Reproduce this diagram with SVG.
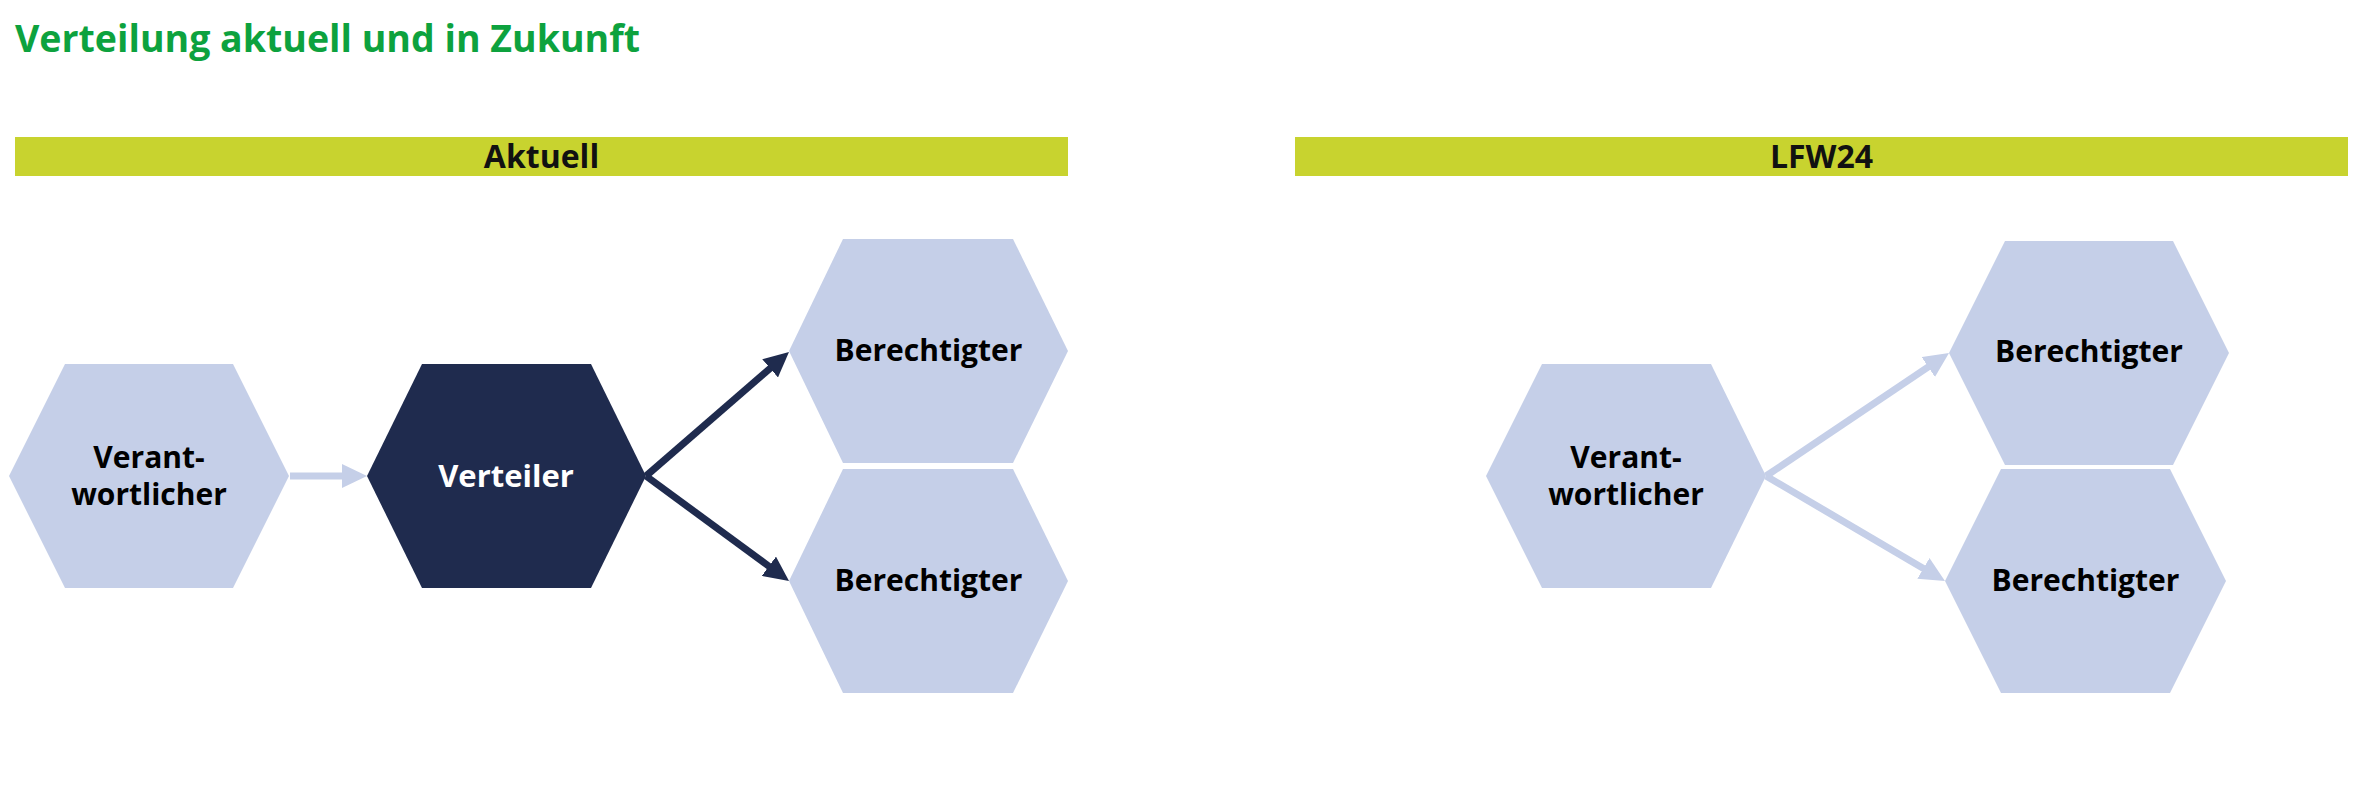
<svg xmlns="http://www.w3.org/2000/svg" width="2362" height="789" viewBox="0 0 2362 789">
<style>
text{font-family:"Open Sans","Noto Sans","Liberation Sans",sans-serif;font-weight:700;text-anchor:middle}
.title{fill:#0DA23E;font-size:37.5px;text-anchor:start}
.bar{fill:#C8D32F}
.barlabel{fill:#111111;font-size:32px}
.hex{fill:#C5CFE8}
.hexdark{fill:#1F2B4E}
.lbl{fill:#000000;font-size:30px}
.lblw{fill:#FFFFFF;font-size:31px}
.darkline{stroke:#1F2B4E;stroke-width:7;fill:none;marker-end:url(#headDark)}
.lightline{stroke:#C5CFE8;stroke-width:7;fill:none;marker-end:url(#headLight)}
</style>
<defs>
<marker id="headDark" markerUnits="userSpaceOnUse" markerWidth="25" markerHeight="24" refX="5" refY="12" orient="auto">
<path d="M0,0 L25,12 L0,24 Z" fill="#1F2B4E"/>
</marker>
<marker id="headLight" markerUnits="userSpaceOnUse" markerWidth="25" markerHeight="24" refX="5" refY="12" orient="auto">
<path d="M0,0 L25,12 L0,24 Z" fill="#C5CFE8"/>
</marker>
</defs>
<rect width="2362" height="789" fill="#FFFFFF"/>
<text id="title" class="title" x="15" y="52">Verteilung aktuell und in Zukunft</text>
<g id="bar-aktuell">
<rect class="bar" x="15" y="137" width="1053" height="39"/>
<text class="barlabel" x="541.5" y="168">Aktuell</text>
</g>
<g id="bar-lfw24">
<rect class="bar" x="1295" y="137" width="1053" height="39"/>
<text class="barlabel" x="1821.5" y="168">LFW24</text>
</g>
<g id="connectors">
<path class="lightline" d="M290,476 L347,476"/>
<path class="darkline" d="M646,476 L773.9,365.1"/>
<path class="darkline" d="M646,476 L772.9,569.2"/>
<path class="lightline" d="M1766,476 L1932.4,364.2"/>
<path class="lightline" d="M1766,476 L1927.7,570.9"/>
</g>
<g id="verantwortlicher-aktuell">
<polygon class="hex" points="9,476 65,364 233,364 289,476 233,588 65,588"/>
<text class="lbl" x="149" y="468">Verant-</text>
<text class="lbl" x="149" y="504.5">wortlicher</text>
</g>
<g id="verteiler">
<polygon class="hexdark" points="367,476 422,364 591,364 646,476 591,588 422,588"/>
<text class="lblw" x="506" y="487">Verteiler</text>
</g>
<g id="berechtigter-aktuell-1">
<polygon class="hex" points="789,351 843,239 1013,239 1068,351 1013,463 843,463"/>
<text class="lbl" x="928.5" y="361">Berechtigter</text>
</g>
<g id="berechtigter-aktuell-2">
<polygon class="hex" points="789,581 843,469 1013,469 1068,581 1013,693 843,693"/>
<text class="lbl" x="928.5" y="591">Berechtigter</text>
</g>
<g id="verantwortlicher-lfw24">
<polygon class="hex" points="1486,476 1542,364 1711,364 1766,476 1711,588 1542,588"/>
<text class="lbl" x="1626" y="468">Verant-</text>
<text class="lbl" x="1626" y="504.5">wortlicher</text>
</g>
<g id="berechtigter-lfw24-1">
<polygon class="hex" points="1949,353 2005,241 2173,241 2229,353 2173,465 2005,465"/>
<text class="lbl" x="2089" y="362">Berechtigter</text>
</g>
<g id="berechtigter-lfw24-2">
<polygon class="hex" points="1945,581 2001,469 2170,469 2226,581 2170,693 2001,693"/>
<text class="lbl" x="2085.5" y="591">Berechtigter</text>
</g>
</svg>
